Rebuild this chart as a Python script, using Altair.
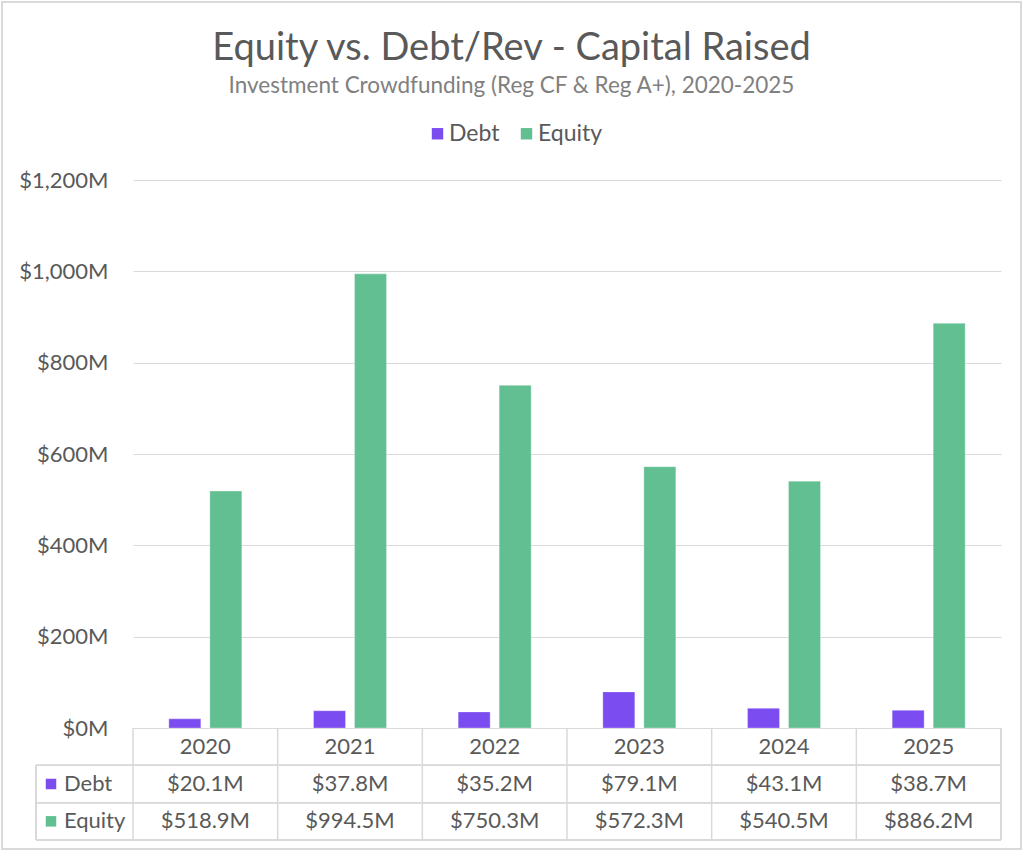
import altair as alt
import pandas as pd

years = ["2020", "2021", "2022", "2023", "2024", "2025"]
debt = [20.1, 37.8, 35.2, 79.1, 43.1, 38.7]
equity = [518.9, 994.5, 750.3, 572.3, 540.5, 886.2]
series = ["Debt", "Equity"]
colors = ["#7B4CEF", "#62BF92"]
y_ticks = [0, 200, 400, 600, 800, 1000, 1200]

FONT = "Lato"
TXT = "#595959"
GRID = "#d9d9d9"
W, H = 868, 548
TABLE_BOTTOM = 660

rows = []
for i, yr in enumerate(years):
    rows.append({"year": yr, "series": "Debt", "value": debt[i]})
    rows.append({"year": yr, "series": "Equity", "value": equity[i]})
df = pd.DataFrame(rows)

cells = []
for yr in years:
    cells.append({"year": yr, "row": "Year", "label": yr})
for r in rows:
    cells.append({"year": r["year"], "row": r["series"], "label": f"${r['value']:.1f}M"})
cells_df = pd.DataFrame(cells)
rowlab_df = pd.DataFrame({"row": series, "series": series})
years_df = pd.DataFrame({"year": years})

color_scale = alt.Scale(domain=series, range=colors)
x_enc = alt.X("year:N", sort=years, scale=alt.Scale(paddingInner=0, paddingOuter=0), axis=None)
row_scale = alt.Scale(domain=["Year", "Debt", "Equity"], range=[H, TABLE_BOTTOM], padding=0.5)

bars = alt.Chart(df).mark_bar(stroke="white", strokeWidth=0.6, strokeOpacity=0.5).encode(
    x=x_enc,
    xOffset=alt.XOffset("series:N", sort=series,
                        scale=alt.Scale(domain=series, paddingInner=0.22, paddingOuter=0.874)),
    y=alt.Y("value:Q", scale=alt.Scale(domain=[0, 1200]),
            axis=alt.Axis(values=y_ticks, title=None, domain=False, ticks=False,
                          labelExpr='"$" + format(datum.value, ",") + "M"',
                          labelFontSize=22, labelColor=TXT, labelFont=FONT,
                          labelPadding=25, grid=True, gridColor=GRID, gridWidth=1.2)),
    color=alt.Color("series:N", scale=color_scale,
                    legend=alt.Legend(title=None, orient="none", legendX=293, legendY=-58,
                                      direction="horizontal", symbolType="square",
                                      symbolSize=130, symbolStrokeWidth=0,
                                      labelFontSize=23, labelColor=TXT, labelFont=FONT,
                                      columnPadding=15, labelOffset=0)),
)

# table vertical lines
vlines = alt.Chart(years_df).mark_rule(color=GRID, strokeWidth=1.5).encode(
    x=alt.X("year:N", sort=years, scale=alt.Scale(paddingInner=0, paddingOuter=0),
            axis=None, bandPosition=0),
    y=alt.value(H), y2=alt.value(TABLE_BOTTOM),
)
vline_right = alt.Chart(years_df).mark_rule(color=GRID, strokeWidth=1.5).encode(
    x=alt.value(W), y=alt.value(H), y2=alt.value(TABLE_BOTTOM))
vline_left = alt.Chart(years_df).mark_rule(color=GRID, strokeWidth=1.5).encode(
    x=alt.value(-97), y=alt.value(H + (TABLE_BOTTOM - H) / 3), y2=alt.value(TABLE_BOTTOM))

hl_df = pd.DataFrame({"k": [1, 2, 3]})
step = (TABLE_BOTTOM - H) / 3
hlines = alt.layer(*[
    alt.Chart(hl_df).mark_rule(color=GRID, strokeWidth=1.5).encode(
        x=alt.value(-97), x2=alt.value(W), y=alt.value(H + k * step))
    for k in (1, 2, 3)
])

cell_text = alt.Chart(cells_df).mark_text(fontSize=22, font=FONT, color=TXT).encode(
    x=alt.X("year:N", sort=years, scale=alt.Scale(paddingInner=0, paddingOuter=0),
            axis=None, bandPosition=0.5),
    y=alt.Y("row:N", scale=row_scale, axis=None),
    text="label:N",
)
row_text = alt.Chart(rowlab_df).mark_text(fontSize=22, font=FONT, color=TXT, align="left").encode(
    x=alt.value(-69),
    y=alt.Y("row:N", scale=row_scale, axis=None),
    text="row:N",
)
row_sym = alt.Chart(rowlab_df).mark_point(shape="square", filled=True, size=110, opacity=1).encode(
    x=alt.value(-82),
    y=alt.Y("row:N", scale=row_scale, axis=None),
    color=alt.Color("series:N", scale=color_scale, legend=None),
)

frame = alt.Chart(hl_df).mark_rect(filled=False, stroke=GRID, strokeWidth=2).encode(
    x=alt.value(-131), x2=alt.value(888), y=alt.value(-178), y2=alt.value(669))

table = alt.layer(cell_text, row_text, row_sym).resolve_scale(y="independent")

chart = alt.layer(frame, bars, vlines, vline_right, vline_left, hlines, table).resolve_scale(
    y="independent"
).properties(
    width=W, height=H,
    background="white",
    autosize=alt.AutoSizeParams(type="none"),
    padding={"left": 133, "top": 180, "right": 23, "bottom": 124},
    title=alt.TitleParams(
        text="Equity vs. Debt/Rev - Capital Raised",
        subtitle="Investment Crowdfunding (Reg CF & Reg A+), 2020-2025",
        anchor="middle", frame="group", dx=-55.5, dy=100,
        font=FONT, fontSize=38, fontWeight="normal", color=TXT,
        subtitleFont=FONT, subtitleFontSize=22.5, subtitleColor="#808080",
        subtitlePadding=7,
    ),
).configure_view(stroke="transparent", strokeWidth=0)

chart.save("out.html", embed_options={"renderer": "svg", "actions": False})
